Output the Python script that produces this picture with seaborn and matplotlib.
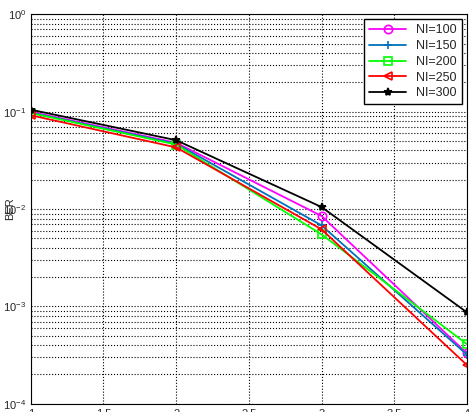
import numpy as np
import matplotlib
matplotlib.use('Agg')
import matplotlib.pyplot as plt
import seaborn as sns

sns.set_style('white')
plt.rcParams['font.family'] = ['Liberation Sans', 'DejaVu Sans']

snr = [1, 2, 3, 4]
labels = ['NI=100', 'NI=150', 'NI=200', 'NI=250', 'NI=300']
ber_100 = [0.100, 0.048, 0.0085, 0.00033]
ber_150 = [0.098, 0.047, 0.0068, 0.00032]
ber_200 = [0.097, 0.046, 0.0055, 0.00041]
ber_250 = [0.092, 0.043, 0.0062, 0.00025]
ber_300 = [0.105, 0.051, 0.0105, 0.00087]
series = [ber_100, ber_150, ber_200, ber_250, ber_300]
colors = ['#ff00ff', '#0072bd', '#00ff00', '#ff0000', '#000000']
markers = ['o', '+', 's', '<', '*']

fig, ax = plt.subplots(figsize=(4.74, 4.12), dpi=100)
for vals, lab, c, m in zip(series, labels, colors, markers):
    face = c if m == '*' else 'none'
    sns.lineplot(x=snr, y=vals, ax=ax, color=c, marker=m, label=lab,
                 linewidth=1.3, markersize=6, markerfacecolor=face,
                 markeredgecolor=c, markeredgewidth=1.2)
ax.set_yscale('log')
ax.set_xlim(1, 4)
ax.set_ylim(1e-4, 1)
ax.set_xticks([1, 1.5, 2, 2.5, 3, 3.5, 4])
ax.set_xticklabels(['1', '1.5', '2', '2.5', '3', '3.5', '4'])
ax.grid(True, which='both', linestyle=':', color='black', linewidth=0.8)
ax.tick_params(labelsize=8, direction='in', which='both')
ax.set_xlabel('SNR(dB)', fontsize=8)
ax.xaxis.set_label_coords(0.215, -0.025)
ax.set_ylabel('BER', fontsize=8)
ax.yaxis.set_label_coords(-0.035, 0.5)
for sp in ax.spines.values():
    sp.set_color('black')
    sp.set_linewidth(0.8)
ax.legend(loc='upper right', fontsize=9, fancybox=False, framealpha=1,
          edgecolor='black', handlelength=3, borderaxespad=0.4,
          labelspacing=0.3)
fig.subplots_adjust(left=0.065, right=0.985, top=0.965, bottom=0.02)
fig.savefig('out.png')
